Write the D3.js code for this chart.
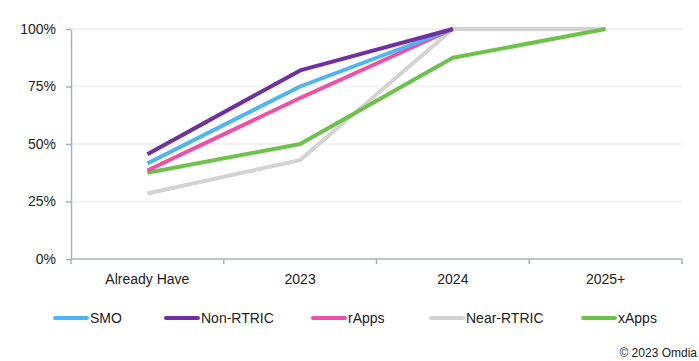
<!DOCTYPE html>
<html>
<head>
<meta charset="utf-8">
<script src="https://cdn.jsdelivr.net/npm/d3@7"></script>
<style>
  body { margin: 0; background: #fff; }
  text { font-family: "Liberation Sans", Arial, sans-serif; fill: #222; }
</style>
</head>
<body>
<div id="chart"></div>
<script>
const categories = ['Already Have', '2023', '2024', '2025+']
const seriesNames = ['SMO', 'Non-RTRIC', 'rApps', 'Near-RTRIC', 'xApps']
const seriesColors = ['#4cb5f5', '#7030a0', '#f04fa6', '#d3d3d3', '#6cc24a']
const smo = [41.5, 75, 100, null]
const nonRtric = [45.5, 82, 100, null]
const rApps = [38.5, 70, 100, null]
const nearRtric = [28.5, 43, 100, 100]
const xApps = [37.5, 50, 87.5, 100]
const yTicks = [0, 25, 50, 75, 100]

const seriesValues = [smo, nonRtric, rApps, nearRtric, xApps]
// draw order: grey first so the others sit on top
const drawOrder = [3, 4, 2, 0, 1]

const width = 699, height = 361
const margin = {top: 29, right: 17, bottom: 102, left: 71}

const svg = d3.select('#chart').append('svg')
    .attr('width', width)
    .attr('height', height)

const x = d3.scaleBand()
    .domain(categories)
    .range([margin.left, width - margin.right])

const y = d3.scaleLinear()
    .domain([0, 100])
    .range([height - margin.bottom, margin.top])

// gridlines
svg.append('g')
    .selectAll('line')
    .data(yTicks.filter(d => d > 0))
    .join('line')
    .attr('x1', margin.left)
    .attr('x2', width - margin.right)
    .attr('y1', d => y(d))
    .attr('y2', d => y(d))
    .attr('stroke', '#eeeeee')
    .attr('stroke-width', 1.5)

const axisColor = '#a9b0b9'

// y axis
const yAxis = svg.append('g')
    .attr('transform', `translate(${margin.left},0)`)
    .call(d3.axisLeft(y).tickValues(yTicks).tickFormat(d => d + '%').tickSize(5).tickPadding(10).tickSizeOuter(0))
yAxis.select('.domain').attr('stroke', axisColor).attr('stroke-width', 1.5)
yAxis.selectAll('.tick line').attr('stroke', axisColor).attr('stroke-width', 1.5)
yAxis.selectAll('.tick text').attr('font-size', 14).style('font-family', '"Liberation Sans", Arial, sans-serif').attr('fill', '#222')

// x axis
const xAxisG = svg.append('g')
    .attr('transform', `translate(0,${y(0)})`)
xAxisG.append('line')
    .attr('x1', margin.left)
    .attr('x2', width - margin.right)
    .attr('stroke', axisColor)
    .attr('stroke-width', 1.5)
const bounds = categories.map(c => x(c)).concat([x(categories[categories.length - 1]) + x.bandwidth()])
xAxisG.selectAll('line.tk')
    .data(bounds)
    .join('line')
    .attr('class', 'tk')
    .attr('x1', d => d)
    .attr('x2', d => d)
    .attr('y1', 0)
    .attr('y2', 5)
    .attr('stroke', axisColor)
    .attr('stroke-width', 1.5)
xAxisG.selectAll('text')
    .data(categories)
    .join('text')
    .attr('x', d => x(d) + x.bandwidth() / 2)
    .attr('y', 20)
    .attr('dy', '0.35em')
    .attr('text-anchor', 'middle')
    .attr('font-size', 14)
    .text(d => d)

// lines
const line = d3.line()
    .defined(d => d.v != null)
    .x(d => x(d.c) + x.bandwidth() / 2)
    .y(d => y(d.v))

svg.append('g')
    .selectAll('path')
    .data(drawOrder)
    .join('path')
    .attr('fill', 'none')
    .attr('stroke', i => seriesColors[i])
    .attr('stroke-width', 4)
    .attr('stroke-linejoin', 'round')
    .attr('d', i => line(seriesValues[i].map((v, j) => ({c: categories[j], v}))))

// legend
const legendX = [55, 166, 313, 431, 583]
const legendY = 318
const legend = svg.append('g')
    .selectAll('g')
    .data(seriesNames)
    .join('g')
    .attr('transform', (d, i) => `translate(${legendX[i]},${legendY})`)
legend.append('line')
    .attr('x1', 0)
    .attr('x2', 32)
    .attr('stroke', (d, i) => seriesColors[i])
    .attr('stroke-width', 4)
    .attr('stroke-linecap', 'round')
legend.append('text')
    .attr('x', 35)
    .attr('dy', '0.35em')
    .attr('font-size', 14)
    .text(d => d)

svg.append('text')
    .attr('x', 697)
    .attr('y', 353)
    .attr('dy', '0.35em')
    .attr('text-anchor', 'end')
    .attr('font-size', 12)
    .text('© 2023 Omdia')
</script>
</body>
</html>
